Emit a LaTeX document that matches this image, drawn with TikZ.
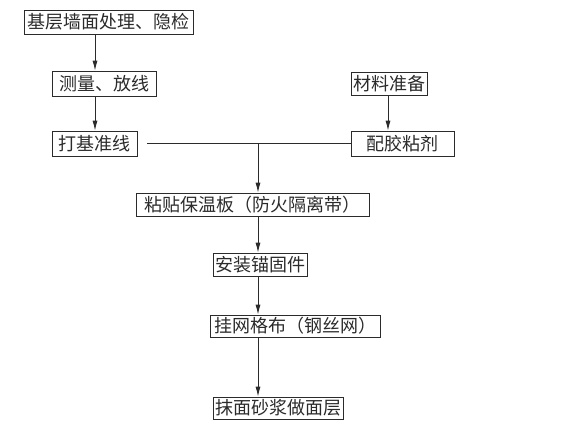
\documentclass[tikz,border=0pt]{standalone}
\usepackage{fontspec}
\newfontfamily\cjk{Noto Sans CJK SC}
\usetikzlibrary{arrows.meta,calc}
\definecolor{flowInk}{HTML}{2B2B2B}
\begin{document}
\begin{tikzpicture}[x=1pt,y=-1pt,>={Latex[length=10pt,width=5pt]},line join=miter]
\path[fill=white] (0,0) rectangle (576,432);
\tikzset{stepbox/.style={draw=flowInk,line width=0.8pt,inner sep=0pt,font=\cjk\fontsize{18}{20}\selectfont,text=flowInk},link/.style={draw=flowInk,line width=0.8pt}}
\node[stepbox,minimum width=169pt,minimum height=24pt] (jc) at (108.5,22) {基层墙面处理、隐检};
\node[stepbox,minimum width=104pt,minimum height=25pt] (cl) at (104,83.5) {测量、放线};
\node[stepbox,minimum width=85pt,minimum height=25pt] (jz) at (94.5,143.5) {打基准线};
\node[stepbox,minimum width=76pt,minimum height=23pt] (cz) at (389,83.5) {材料准备};
\node[stepbox,minimum width=103pt,minimum height=25pt] (pj) at (402.5,143.5) {配胶粘剂};
\node[stepbox,minimum width=233pt,minimum height=23pt] (zt) at (252.5,204.5) {粘贴保温板（防火隔离带）};
\node[stepbox,minimum width=94pt,minimum height=23pt] (mg) at (260,264.5) {安装锚固件};
\node[stepbox,minimum width=170pt,minimum height=22pt] (gw) at (295,326) {挂网格布（钢丝网）};
\node[stepbox,minimum width=130pt,minimum height=22pt] (mm) at (278,408) {抹面砂浆做面层};
\coordinate (jn) at (258,144);
\draw[link,->] (jc.south -| 95,0) -- (cl.north -| 95,0);
\draw[link,->] (cl.south -| 95,0) -- (jz.north -| 95,0);
\draw[link,->] (cz.south -| 388,0) -- (pj.north -| 388,0);
\draw[link] ($(jz.east)+(10,0)$) -- (pj.west);
\draw[link,->] (jn) -- (zt.north -| jn);
\draw[link,->] (zt.south -| jn) -- (mg.north -| jn);
\draw[link,->] (mg.south -| jn) -- (gw.north -| jn);
\draw[link,->] (gw.south -| jn) -- (mm.north -| jn);
\end{tikzpicture}
\end{document}
